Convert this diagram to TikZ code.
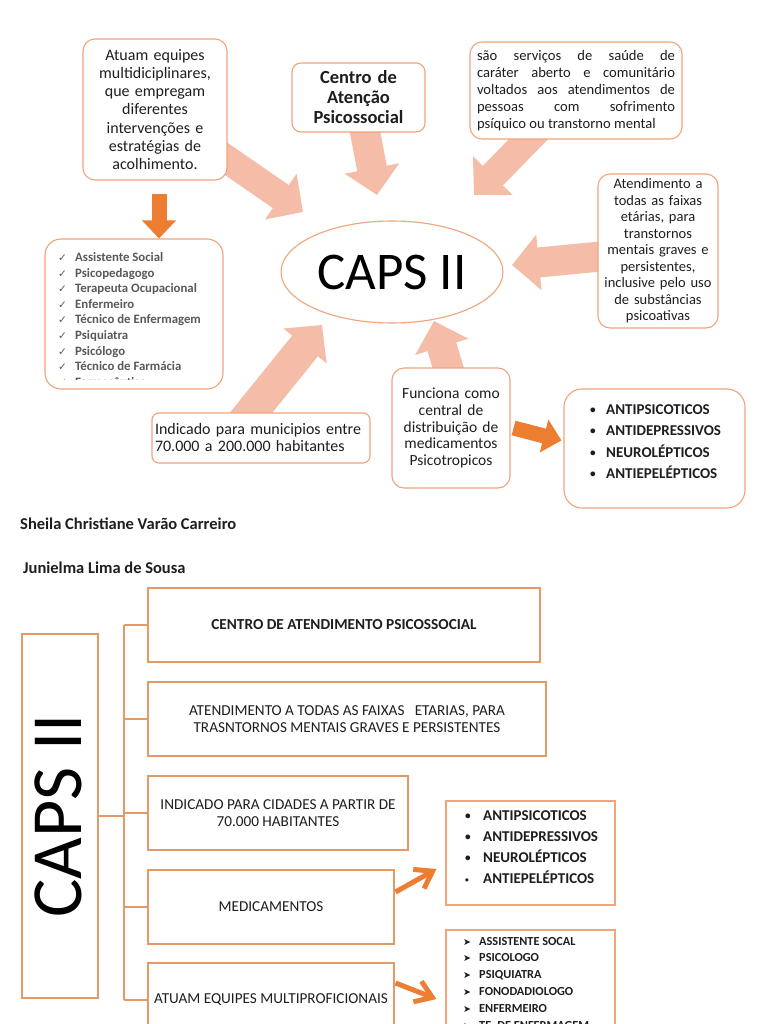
\documentclass[tikz,border=0pt]{standalone}
\usepackage{fontspec}
\usepackage{graphicx}
\setmainfont{Carlito}
\newfontfamily\djv{DejaVu Sans}
\usetikzlibrary{arrows.meta,backgrounds,calc,shapes.geometric}
\definecolor{pale}{HTML}{F5BDA7}
\definecolor{org}{HTML}{ED7D31}
\definecolor{bord}{HTML}{EFA47A}
\definecolor{rbord}{HTML}{E49A66}
\definecolor{txt}{HTML}{1E1E1E}
\definecolor{gry}{HTML}{595959}
\newcommand\setfs[2]{\fontsize{#1}{#2}\selectfont}
\newcommand\smbul[1]{\raisebox{1pt}{\scalebox{#1}{•}}}
\newcommand\nohyph{\tolerance=10000 \hyphenpenalty=10000 }
\begin{document}
\begin{tikzpicture}[x=1pt,y=-1pt,
 rbox/.style={draw=bord, line width=1.1pt, rounded corners=12pt, fill=white, inner sep=0pt, align=center, text=txt},
 sbox/.style={draw=rbord, line width=1.1pt, fill=white, inner sep=0pt, align=center, text=txt},
 palearrow/.style={draw=pale, line width=30pt, -{Triangle[length=27pt,width=54pt]}},
 orgblock/.style={draw=org, line width=15pt, -{Triangle[length=18pt,width=33pt]}},
 orgline/.style={draw=org, line width=5pt, -{Straight Barb[length=16pt,width=22pt]}},
 busline/.style={draw=rbord, line width=1.1pt},
 li/.style={anchor=base west, inner sep=0pt, text=txt},
]
\useasboundingbox (0,0) rectangle (768,1024);

% ---------- top half ----------
\node[rbox, minimum width=144pt, minimum height=141pt, text width=140pt, font=\setfs{16}{18.3}] (A) at (155,109.5)
 {Atuam equipes\\multidiciplinares,\\que empregam\\diferentes\\intervenções e\\estratégias de\\acolhimento.};
\node[rbox, rounded corners=9pt, minimum width=133pt, minimum height=69pt, text width=130pt, font=\bfseries\setfs{18.5}{20}] (B) at (358.5,97.5)
 {Centro de\\Atenção\\Psicossocial};
\node[rbox, minimum width=212pt, minimum height=97pt, text width=198pt, align=justify, font=\setfs{14.6}{17}] (C) at (576,90.5)
 {\nohyph são serviços de saúde de\linebreak caráter aberto e comunitário\linebreak voltados aos atendimentos de\linebreak pessoas com sofrimento\linebreak psíquico ou transtorno mental};
\node[rbox, minimum width=120pt, minimum height=154pt, text width=116pt, font=\setfs{14.5}{16.5}] (D) at (658,251)
 {Atendimento a\\todas as faixas\\etárias, para\\transtornos\\mentais graves e\\persistentes,\\inclusive pelo uso\\de substâncias\\psicoativas};
\node[rbox, rounded corners=16pt, minimum width=178pt, minimum height=150pt] (E) at (134,314) {};
\begin{scope}
\clip (46,240) rectangle (222,379);
\foreach \itm [count=\i] in {Assistente Social,Psicopedagogo,Terapeuta Ocupacional,Enfermeiro,Técnico de Enfermagem,Psiquiatra,Psicólogo,Técnico de Farmácia,Farmacêutico}
 \node[li, text=gry, font=\bfseries\setfs{12.8}{15}] (e\i) at ({58},{261.5+15.6*(\i-1)}) {\makebox[17pt][l]{\djv\mdseries\setfs{10.5}{11}\textcolor{gry}{✓}}\itm};
\end{scope}
\node[draw=bord, line width=1.1pt, ellipse, minimum width=222pt, minimum height=102pt, inner sep=0pt, fill=white, text=black, font=\setfs{53}{53}] (caps) at (392,272) {CAPS II};
\node[rbox, rounded corners=7pt, minimum width=218pt, minimum height=50pt, text width=212pt, align=left, font=\setfs{16}{17}] (F) at (261,438)
 {Indicado para municipios entre\\70.000 a 200.000 habitantes};
\node[rbox, minimum width=118pt, minimum height=120pt, text width=114pt, font=\setfs{15.5}{16.8}] (G) at (451,428)
 {Funciona como\\central de\\distribuição de\\medicamentos\\Psicotropicos};
\node[rbox, rounded corners=18pt, minimum width=181pt, minimum height=119pt] (H) at (654.5,448.5) {};
\foreach \itm [count=\i] in {ANTIPSICOTICOS,ANTIDEPRESSIVOS,NEUROLÉPTICOS,ANTIEPELÉPTICOS}
 \node[li, font=\bfseries\setfs{15}{15}] (h\i) at ({590},{414+21.6*(\i-1)}) {\makebox[16pt][l]{\smbul{0.75}}\itm};

% orange block arrows (top)
\coordinate (oa) at ($(A.south)+(4,13)$);
\draw[orgblock] (oa) -- (oa |- E.north);
\draw[orgblock] ($(G.east)+(3,0)$) -- ($(H.west)+(-2,-8)$);

% names
\node[anchor=west, inner sep=0pt, text=txt, font=\bfseries\setfs{16.5}{18}] (n1) at (20,524) {Sheila Christiane Varão Carreiro};
\node[anchor=west, inner sep=0pt, text=txt, font=\bfseries\setfs{16.5}{18}] (n2) at (23,568) {Junielma Lima de Sousa};

% ---------- bottom half ----------
\node[sbox, minimum width=76pt, minimum height=364pt] (capsbox) at (60,816) {};
\node[rotate=90, inner sep=0pt, text=black, font=\setfs{72}{72}] (capsv) at (58,816) {CAPS II};
\node[sbox, minimum width=392pt, minimum height=74pt, font=\bfseries\setfs{15.3}{17}] (b1) at (344,625) {CENTRO DE ATENDIMENTO PSICOSSOCIAL};
\node[sbox, minimum width=398pt, minimum height=74pt, font=\setfs{15.2}{17}] (b2) at (347,719) {ATENDIMENTO A TODAS AS FAIXAS\ \ \ ETARIAS, PARA\\TRASNTORNOS MENTAIS GRAVES E PERSISTENTES};
\node[sbox, minimum width=260pt, minimum height=74pt, font=\setfs{15.2}{17.5}] (b3) at (278,813) {INDICADO PARA CIDADES A PARTIR DE\\70.000 HABITANTES};
\node[sbox, minimum width=246pt, minimum height=74pt, font=\setfs{15.2}{17}] (b4) at (271,907) {MEDICAMENTOS};
\node[sbox, minimum width=246pt, minimum height=74pt, font=\setfs{15.2}{17}] (b5) at (271,1000) {ATUAM EQUIPES MULTIPROFICIONAIS};
\node[sbox, draw=bord, minimum width=169pt, minimum height=104pt] (b6) at (530.5,853) {};
\foreach \itm/\sc [count=\i] in {ANTIPSICOTICOS/0.75,ANTIDEPRESSIVOS/0.75,NEUROLÉPTICOS/0.75,ANTIEPELÉPTICOS/0.5}
 \node[li, font=\bfseries\setfs{15}{15}] (g\i) at ({465},{820+21.2*(\i-1)}) {\makebox[18pt][l]{\smbul{\sc}}\itm};
\node[sbox, draw=bord, minimum width=169pt, minimum height=110pt] (b7) at (530.5,985) {};
\foreach \itm [count=\i] in {ASSISTENTE SOCAL,PSICOLOGO,PSIQUIATRA,FONODADIOLOGO,ENFERMEIRO,TE. DE ENFERMAGEM}
 \node[li, font=\bfseries\setfs{12.3}{12}] (k\i) at ({463},{945+16.8*(\i-1)}) {\makebox[16pt][l]{\djv\setfs{9.5}{9.5}➤}\itm};

% bracket
\coordinate (bus) at (124,816);
\draw[busline] (capsbox.east) -- (bus);
\draw[busline] (bus |- b1.west) -- (bus |- b5.west);
\foreach \b in {b1,b2,b3,b4,b5} \draw[busline] (bus |- \b.west) -- (\b.west);

% orange line arrows (bottom)
\draw[orgline] ($(b4.east)+(1,-15)$) -- ($(b6.west)+(-9,16)$);
\draw[orgline] ($(b5.east)+(1,-17)$) -- ($(b7.west)+(-9,14)$);

% ---------- pale arrows behind ----------
\begin{pgfonlayer}{background}
\fill[white] (0,0) rectangle (768,1024);
\coordinate (t1) at (303,212);
\coordinate (t2) at (377,195);
\coordinate (t3) at (474,195);
\coordinate (t4) at (512,265);
\coordinate (t5) at (322,325);
\coordinate (t6) at (434,321);
\draw[palearrow, line width=28pt] (A.center) -- (t1);
\draw[palearrow] (B.center) -- (t2);
\draw[palearrow, line width=28pt] (C.center) -- (t3);
\draw[palearrow] (D.center) -- (t4);
\draw[palearrow, line width=33pt] ($(F.center)+(-32,2)$) -- (t5);
\draw[palearrow] ($(G.center)+(7,-28)$) -- (t6);
\end{pgfonlayer}
\end{tikzpicture}
\end{document}
